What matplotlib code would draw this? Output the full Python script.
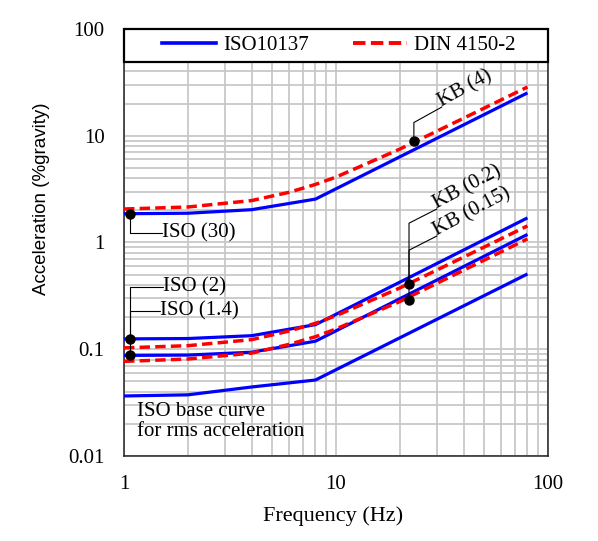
import matplotlib
matplotlib.use("Agg")
import matplotlib.pyplot as plt
from matplotlib.patches import Rectangle

# ---------------- data ----------------
iso_freq = [1, 2, 4, 8, 80]
iso_base = [0.0365, 0.0374, 0.0443, 0.0515, 0.507]
iso_30 = [1.86, 1.88, 2.03, 2.55, 25.2]
iso_2 = [0.125, 0.126, 0.134, 0.170, 1.70]
iso_14 = [0.0875, 0.0882, 0.0938, 0.119, 1.19]

din_freq = [1, 2, 4, 6, 8, 10, 20, 40, 80]
kb_4 = [2.06, 2.15, 2.47, 2.95, 3.50, 4.10, 7.50, 14.6, 28.6]
kb_02 = [0.103, 0.108, 0.123, 0.148, 0.175, 0.206, 0.375, 0.73, 1.43]
kb_015 = [0.077, 0.081, 0.092, 0.111, 0.131, 0.155, 0.28, 0.55, 1.08]

# annotation dots and labels
ann_labels = ["ISO (30)", "ISO (2)", "ISO (1.4)", "KB (4)", "KB (0.2)", "KB (0.15)"]
ann_freq = [1.066, 1.066, 1.066, 23.3, 22.1, 22.1]
ann_val = [1.84, 0.125, 0.0880, 8.9, 0.408, 0.291]
ann_text_freq = [1.51, 1.53, 1.48, 31.6, 29.9, 29.9]
ann_text_val = [1.23, 0.383, 0.230, 18.6, 2.06, 1.15]

x_ticks = [1, 10, 100]
x_ticklabels = ["1", "10", "100"]
y_ticks = [0.01, 0.1, 1, 10, 100]
y_ticklabels = ["0.01", "0.1", "1", "10", "100"]

legend_labels = ["ISO10137", "DIN 4150-2"]
base_note = "ISO base curve\nfor rms acceleration"

# ---------------- figure ----------------
plt.rcParams["font.family"] = ["Liberation Serif", "DejaVu Serif"]
fig = plt.figure(figsize=(5.98, 5.41), dpi=100)
ax = fig.add_axes([0.20736, 0.15712, 0.70903, 0.78928])
ax.set_xscale("log")
ax.set_yscale("log")
ax.set_xlim(1, 100)
ax.set_ylim(0.01, 100)

blue = "#0000ff"
red = "#ff0000"
lw_b = 2.3
lw_r = 2.5
dash = (3.0, 1.5)

for vals in (iso_base, iso_30, iso_2, iso_14):
    ax.plot(iso_freq, vals, color=blue, lw=lw_b, zorder=3, solid_capstyle="butt")
for vals in (kb_4, kb_02, kb_015):
    ax.plot(din_freq, vals, color=red, lw=lw_r, ls=(0, dash), zorder=3.1, dash_capstyle="butt")

# grid
ax.grid(True, which="both", color="#c8c8c8", lw=1.3, zorder=0.5)
ax.set_axisbelow(True)
ax.set_xticks(x_ticks)
ax.set_xticklabels(x_ticklabels)
ax.set_yticks(y_ticks)
ax.set_yticklabels(y_ticklabels)
ax.tick_params(which="both", length=0, labelsize=15, pad=14)
for s in ax.spines.values():
    s.set_color("#202020")
    s.set_linewidth(1.1)

ax.set_xlabel("Frequency (Hz)", fontsize=16)
ax.xaxis.set_label_coords(0.493, -0.117)
ax.set_ylabel("Acceleration (%gravity)", fontsize=13.5, family=["Liberation Sans", "DejaVu Sans"])
ax.yaxis.set_label_coords(-0.175, 0.602)

# annotation leaders, dots and texts
ax.plot(ann_freq, ann_val, "o", color="black", ms=6.5, zorder=6)
angles = [0, 0, 0, 29, 27, 27]
rots = [0, 0, 0, 29, 28, 28]
for lab, fx, fy, tx, ty, ang, rot in zip(ann_labels, ann_freq, ann_val,
                                          ann_text_freq, ann_text_val, angles, rots):
    ax.annotate("", xy=(fx, fy), xytext=(tx, ty), textcoords="data",
                arrowprops=dict(arrowstyle="-", color="black", lw=0.8,
                                shrinkA=0, shrinkB=0,
                                connectionstyle=f"angle,angleA={ang},angleB=90,rad=0"),
                zorder=5)
    if rot == 0:
        ax.text(tx, ty, lab, fontsize=15, ha="left", va="center", zorder=7)
    else:
        ax.text(tx, ty, lab, fontsize=15, ha="left", va="baseline",
                rotation=rot, rotation_mode="anchor", zorder=7)

ax.text(1.152, 0.0318, base_note, fontsize=15, ha="left", va="top",
        linespacing=1.08, zorder=7)

# legend box across the top of the plot
box_h = 33 / 427
ax.add_patch(Rectangle((0, 1 - box_h), 1, box_h, transform=ax.transAxes,
                       facecolor="white", edgecolor="black", lw=1.6, zorder=8,
                       clip_on=False))
h1, = ax.plot([], [], color=blue, lw=2.6)
h2, = ax.plot([], [], color=red, lw=2.8, ls=(0, (3.2, 1.4)))
leg = ax.legend([h1, h2], legend_labels, loc="center",
                bbox_to_anchor=(0.507, 1 - box_h / 2), bbox_transform=ax.transAxes,
                ncol=2, frameon=False, fontsize=15, handlelength=2.6,
                handletextpad=0.35, columnspacing=2.1, borderpad=0.2)
leg.set_zorder(9)

fig.savefig("out.png", dpi=100)
